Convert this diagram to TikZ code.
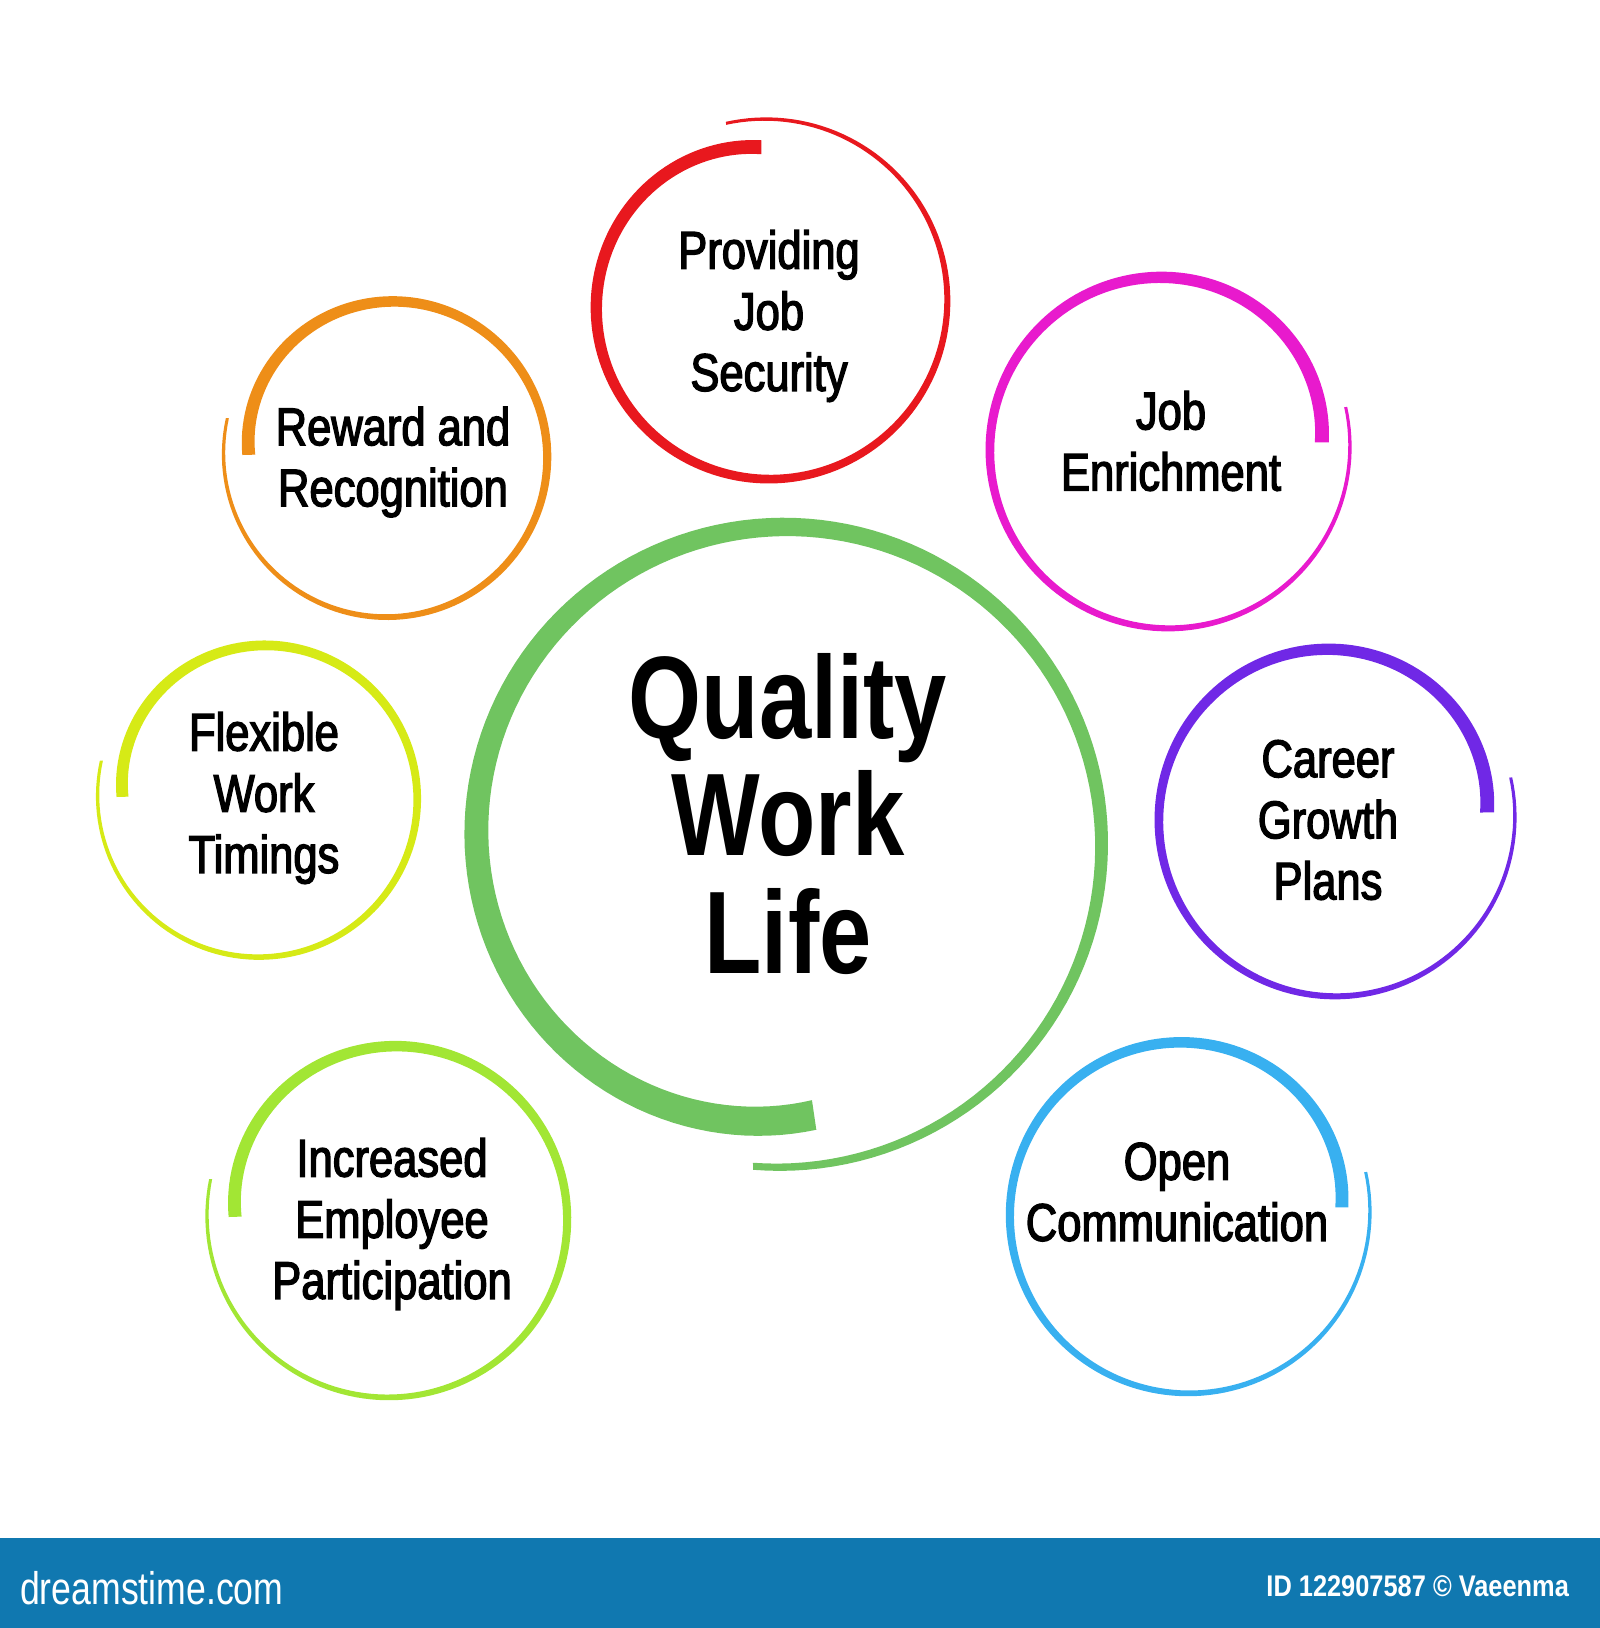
\documentclass[tikz,border=0pt]{standalone}
\usepackage{fontspec}
\setmainfont{Liberation Sans}
\newfontfamily\itemfont{Liberation Sans}[FakeStretch=0.82,FakeBold=2.5]
\newfontfamily\hubfont{Liberation Sans}[FakeStretch=0.8]
\newfontfamily\sitefont{Liberation Sans}[FakeStretch=0.78]
\newfontfamily\idfont{Liberation Sans}[FakeStretch=0.85]
\usepackage{tikz}
\tikzset{every picture/.style={semithick}}
\definecolor{ringRed}{RGB}{232,24,30}
\definecolor{ringOrange}{RGB}{238,142,24}
\definecolor{ringMagenta}{RGB}{232,26,205}
\definecolor{ringPurple}{RGB}{112,40,230}
\definecolor{ringBlue}{RGB}{56,176,240}
\definecolor{ringLime}{RGB}{162,230,52}
\definecolor{ringYellow}{RGB}{214,234,22}
\definecolor{ringGreen}{RGB}{112,196,96}
\definecolor{barBlue}{RGB}{16,120,176}
\tikzstyle{itemtext}=[align=center,inner sep=0pt,font={\itemfont\fontsize{15.1}{17.4}\selectfont}]
\tikzstyle{hubtext}=[align=center,inner sep=0pt,font={\hubfont\bfseries\fontsize{33.4}{33.3}\selectfont}]
\tikzstyle{bartext}=[inner sep=0pt,text=white]
% hand drawn ring: colour, cx, cy, radius, start angle, sweep, start width, end width
\newcommand{\handring}[8]{%
  \fill[#1] plot[domain=0:1,samples=160,variable=\t]
    ({#2+(#4*(1+0.06*(\t-0.5))-0.1*#4*(1-\t)^5+0.5*(#8+(#7-#8)*(1-\t)))*cos((#5)+(#6)*\t)},
     {#3-(#4*(1+0.06*(\t-0.5))-0.1*#4*(1-\t)^5+0.5*(#8+(#7-#8)*(1-\t)))*sin((#5)+(#6)*\t)})
    -- plot[domain=1:0,samples=160,variable=\t]
    ({#2+(#4*(1+0.06*(\t-0.5))-0.1*#4*(1-\t)^5-0.5*(#8+(#7-#8)*(1-\t)))*cos((#5)+(#6)*\t)},
     {#3-(#4*(1+0.06*(\t-0.5))-0.1*#4*(1-\t)^5-0.5*(#8+(#7-#8)*(1-\t)))*sin((#5)+(#6)*\t)})
    -- cycle;
}
\begin{document}
\begin{tikzpicture}[x=0.1mm,y=-0.1mm]
        \useasboundingbox (0,0) rectangle (1600,1628);
        % rings
        \handring{ringGreen}{781}{842}{316}{277}{-372}{30}{7}
        \handring{ringRed}{767}{302}{178}{92}{371}{14}{3}
        \handring{ringOrange}{388}{455}{160}{180}{-373}{13}{3}
        \handring{ringMagenta}{1167}{448}{178}{2}{371}{14}{3}
        \handring{ringPurple}{1334}{818}{176}{2}{371}{14}{3}
        \handring{ringBlue}{1187}{1213}{178}{2}{371}{13}{3}
        \handring{ringLime}{390}{1217}{178}{180}{-372}{13}{3}
        \handring{ringYellow}{260}{797}{158}{180}{-373}{12}{3}
        % texts
        \node [hubtext] (qwl) at (788,814) {Quality\\Work\\Life};
        \node [itemtext] (security) at (769,316) {Providing\\Job\\Security};
        \node [itemtext] (enrich) at (1171,441) {Job\\Enrichment};
        \node [itemtext] (career) at (1328,820) {Career\\Growth\\Plans};
        \node [itemtext] (comm) at (1177,1192) {Open\\Communication};
        \node [itemtext] (particip) at (392,1224) {Increased\\Employee\\Participation};
        \node [itemtext] (flex) at (264,798) {Flexible\\Work\\Timings};
        \node [itemtext] (reward) at (393,462) {Reward and\\Recognition};
        % bottom bar
        \fill [barBlue] (0,1538) rectangle (1600,1628);
        \node [bartext,anchor=west,font={\sitefont\fontsize{13}{13}\selectfont}] (site) at (19,1588) {dreamstime.com};
        \node [bartext,anchor=east,font={\idfont\bfseries\fontsize{8.5}{9}\selectfont}] (imgid) at (1570,1586) {ID 122907587 © Vaeenma};
\end{tikzpicture}
\end{document}
